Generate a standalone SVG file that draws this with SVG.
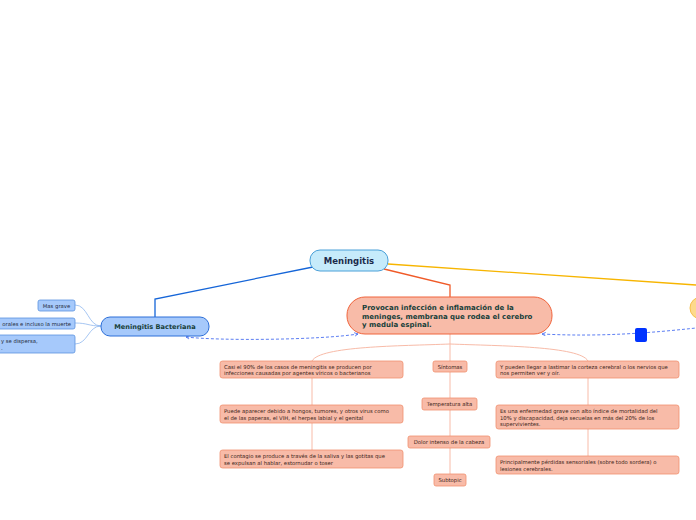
<svg xmlns="http://www.w3.org/2000/svg" width="696" height="520" viewBox="0 0 696 520">
<defs>
<style>
text{font-family:"DejaVu Sans","Verdana",sans-serif}
.main{fill:#c6ebfb;stroke:#4aa0d8;stroke-width:1}
.mt{font-size:8.5px;font-weight:bold;fill:#1b2a4a}
.bact{fill:#a6c9fb;stroke:#2d6fd8;stroke-width:1}
.bt{font-size:6.6px;font-weight:bold;fill:#173f3a}
.lb{fill:#a6c9fb;stroke:#5b93e0;stroke-width:0.8}
.lt{font-size:5.3px;fill:#1f2a3a}
.sub{fill:#f8bba8;stroke:#f0643c;stroke-width:1}
.st{font-size:7px;font-weight:bold;fill:#173f3a}
.box{fill:#f8bba8;stroke:#f0906f;stroke-width:0.8}
.tx{font-size:5.3px;fill:#3a2418}
.lnk{fill:none;stroke:#f8bba8;stroke-width:1}
.dash{fill:none;stroke:#4a6ff0;stroke-width:0.9;stroke-dasharray:3,2}
</style>
<marker id="ah" viewBox="0 0 6 6" refX="5" refY="3" markerWidth="5" markerHeight="5" orient="auto-start-reverse">
<path d="M0,0.5 L5,3 L0,5.5" fill="none" stroke="#4a6ff0" stroke-width="1"/>
</marker>
</defs>
<rect width="696" height="520" fill="#ffffff"/>
<g id="connectors">
<path d="M313,267 L155,299 L155,317" fill="none" stroke="#1565d8" stroke-width="1.3"/>
<path d="M384,269 L450,285 L450,297" fill="none" stroke="#f05a28" stroke-width="1.3"/>
<path d="M388,264 L696,285" fill="none" stroke="#f7b500" stroke-width="1.3"/>
<path d="M101,326 C88,326 88,305 75,305" fill="none" stroke="#8fb8ef" stroke-width="0.8"/>
<path d="M101,326 C88,326 88,323 75,323" fill="none" stroke="#8fb8ef" stroke-width="0.8"/>
<path d="M101,326 C88,326 88,344 75,344" fill="none" stroke="#8fb8ef" stroke-width="0.8"/>
<path d="M450,334 L450,361" class="lnk"/>
<path d="M450,344 C400,346 320,346 312,361" class="lnk"/>
<path d="M450,344 C500,346 580,346 588,361" class="lnk"/>
<path d="M312,378 L312,450" class="lnk"/>
<path d="M450,372 L450,474" class="lnk"/>
<path d="M588,378 L588,456" class="lnk"/>
<path d="M186,337 C220,341 320,340 358,334" class="dash" marker-start="url(#ah)" marker-end="url(#ah)"/>
<path d="M542,334 C600,337 650,333 696,328" class="dash" marker-start="url(#ah)"/>
<rect x="635" y="328" width="12" height="14" rx="2" fill="#0033ff"/>
</g>
<g id="meningitis">
<rect x="310" y="250" width="78" height="21" rx="10" class="main"/>
<text x="349" y="264" text-anchor="middle" class="mt">Meningitis</text>
</g>
<g id="bacteriana">
<rect x="101" y="317" width="108" height="19" rx="9" class="bact"/>
<text x="155" y="329" text-anchor="middle" class="bt">Meningitis Bacteriana</text>
</g>
<g id="mas-grave">
<rect x="38" y="300" width="37" height="11" rx="2" class="lb"/>
<text x="56.5" y="307.5" text-anchor="middle" class="lt">Mas grave</text>
</g>
<g id="muerte">
<rect x="-10" y="318" width="85" height="11" rx="2" class="lb"/>
<text x="71" y="325.5" text-anchor="end" class="lt">orales e incluso la muerte</text>
</g>
<g id="dispersa">
<rect x="-10" y="335" width="85" height="18" rx="2" class="lb"/>
<text class="lt"><tspan x="1" y="342.5">y se dispersa,</tspan><tspan x="1" y="349.5">.</tspan></text>
</g>
<g id="yellow-node">
<rect x="690" y="297" width="40" height="22" rx="11" fill="#fdd98c" stroke="#f7c04a" stroke-width="1"/>
</g>
<g id="provocan">
<rect x="347" y="297" width="205" height="37" rx="18" class="sub"/>
<text class="st"><tspan x="362" y="310">Provocan infección e inflamación de la</tspan><tspan x="362" y="318.5">meninges, membrana que rodea el cerebro</tspan><tspan x="362" y="327">y medula espinal.</tspan></text>
</g>
<g id="casi">
<rect x="220" y="361" width="183" height="17" rx="2.5" class="box"/>
<text class="tx"><tspan x="224" y="368.5">Casi el 90% de los casos de meningitis se producen por</tspan><tspan x="224" y="375">infecciones causadas por agentes víricos o bacterianos</tspan></text>
</g>
<g id="hongos">
<rect x="220" y="405" width="183" height="18" rx="2.5" class="box"/>
<text class="tx"><tspan x="224" y="412.5">Puede aparecer debido a hongos, tumores, y otros virus como</tspan><tspan x="224" y="419.5">el de las paperas, el VIH, el herpes labial y el genital</tspan></text>
</g>
<g id="contagio">
<rect x="220" y="450" width="183" height="18" rx="2.5" class="box"/>
<text class="tx"><tspan x="224" y="457.5">El contagio se produce a través de la saliva y las gotitas que</tspan><tspan x="224" y="464.5">se expulsan al hablar, estornudar o toser</tspan></text>
</g>
<g id="sintomas">
<rect x="433" y="361" width="34" height="11" rx="2" class="box"/>
<text x="450" y="368.5" text-anchor="middle" class="tx">Síntomas</text>
</g>
<g id="temperatura">
<rect x="422" y="398" width="55" height="12" rx="2" class="box"/>
<text x="449.5" y="406" text-anchor="middle" class="tx">Temperatura alta</text>
</g>
<g id="dolor">
<rect x="408" y="436" width="82" height="12" rx="2" class="box"/>
<text x="449" y="444" text-anchor="middle" class="tx">Dolor intenso de la cabeza</text>
</g>
<g id="subtopic">
<rect x="434" y="474" width="32" height="12" rx="2" class="box"/>
<text x="450" y="482" text-anchor="middle" class="tx">Subtopic</text>
</g>
<g id="corteza">
<rect x="496" y="361" width="183" height="17" rx="2.5" class="box"/>
<text class="tx"><tspan x="500" y="368.5">Y pueden llegar a lastimar la corteza cerebral o los nervios que</tspan><tspan x="500" y="375">nos permiten ver y oír.</tspan></text>
</g>
<g id="mortalidad">
<rect x="496" y="405" width="183" height="24" rx="2.5" class="box"/>
<text class="tx"><tspan x="500" y="412.5">Es una enfermedad grave con alto índice de mortalidad del</tspan><tspan x="500" y="419.5">10% y discapacidad, deja secuelas en más del 20% de los</tspan><tspan x="500" y="426">supervivientes.</tspan></text>
</g>
<g id="sensoriales">
<rect x="496" y="456" width="183" height="18" rx="2.5" class="box"/>
<text class="tx"><tspan x="500" y="463.5">Principalmente pérdidas sensoriales (sobre todo sordera) o</tspan><tspan x="500" y="470.5">lesiones cerebrales.</tspan></text>
</g>
</svg>
